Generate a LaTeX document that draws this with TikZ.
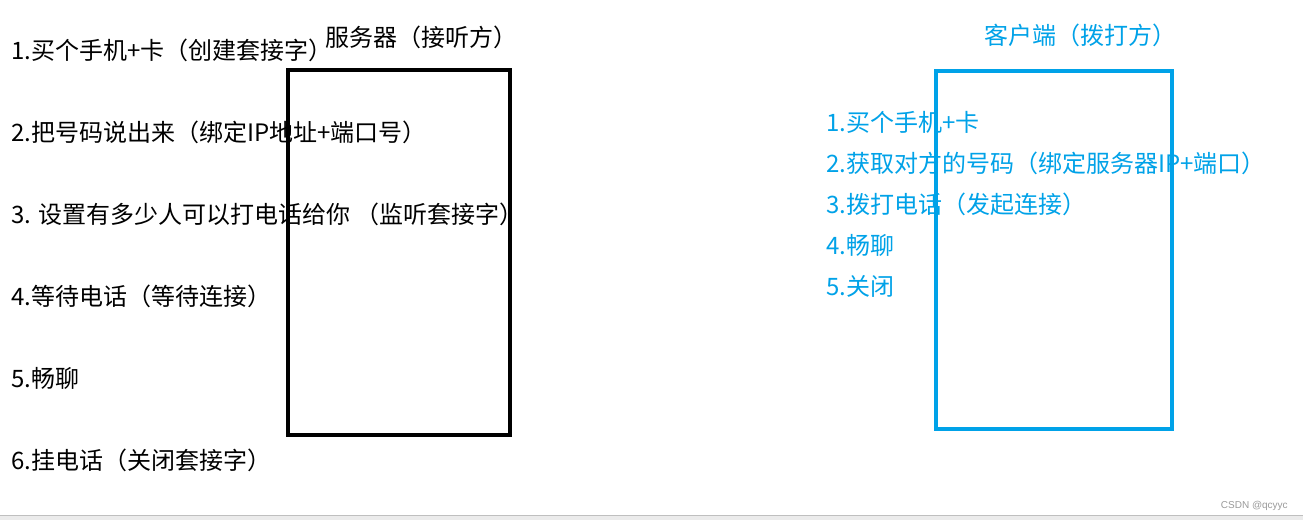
\documentclass[tikz,border=0pt]{standalone}
\usepackage{fontspec}
\setmainfont{Noto Sans CJK SC}
\definecolor{cblue}{HTML}{00A2E8}
\definecolor{wmgray}{HTML}{9A9A9A}
\begin{document}
\begin{tikzpicture}[x=0.75pt,y=-0.75pt,
  txt/.style={anchor=west,inner sep=0pt,font=\fontsize{18pt}{20pt}\selectfont},
  ctxt/.style={txt,text=cblue},
  srvbox/.style={draw=black,line width=3pt,inner sep=0pt,minimum width=166.5pt,minimum height=273.75pt},
  clibox/.style={draw=cblue,line width=3pt,inner sep=0pt,minimum width=177pt,minimum height=268.5pt}]
\useasboundingbox (0,0) rectangle (1303,520);
\fill[white] (0,0) rectangle (1303,520);
% bottom strip of the screenshot
\fill[black!8] (0,515) rectangle (1303,520);
\draw[black!25,line width=0.5pt] (0,515) -- (1303,515);
% boxes
\node[srvbox] (sbox) at (399,252.5) {};
\node[clibox] (cbox) at (1054,250) {};
% titles
\node[txt] (stitle) at (325,37) {服务器（接听方）};
\node[ctxt] (ctitle) at (984,35) {客户端（拨打方）};
% server steps
\node[txt] (s1) at (11,50) {1.买个手机+卡（创建套接字）};
\node[txt] (s2) at (11,132) {2.把号码说出来（绑定IP地址+端口号）};
\node[txt] (s3) at (11,214) {3. 设置有多少人可以打电话给你 （监听套接字）};
\node[txt] (s4) at (11,296) {4.等待电话（等待连接）};
\node[txt] (s5) at (11,378) {5.畅聊};
\node[txt] (s6) at (11,460) {6.挂电话（关闭套接字）};
% client steps
\node[ctxt] (c1) at (826,122) {1.买个手机+卡};
\node[ctxt] (c2) at (826,163) {2.获取对方的号码（绑定服务器IP+端口）};
\node[ctxt] (c3) at (826,204) {3.拨打电话（发起连接）};
\node[ctxt] (c4) at (826,245) {4.畅聊};
\node[ctxt] (c5) at (826,286) {5.关闭};
% watermark
\node[anchor=east,inner sep=0pt,text=wmgray,font=\fontspec{Liberation Sans}\fontsize{7.5pt}{8pt}\selectfont] (wm) at (1288,506) {CSDN @qcyyc};
\end{tikzpicture}
\end{document}
